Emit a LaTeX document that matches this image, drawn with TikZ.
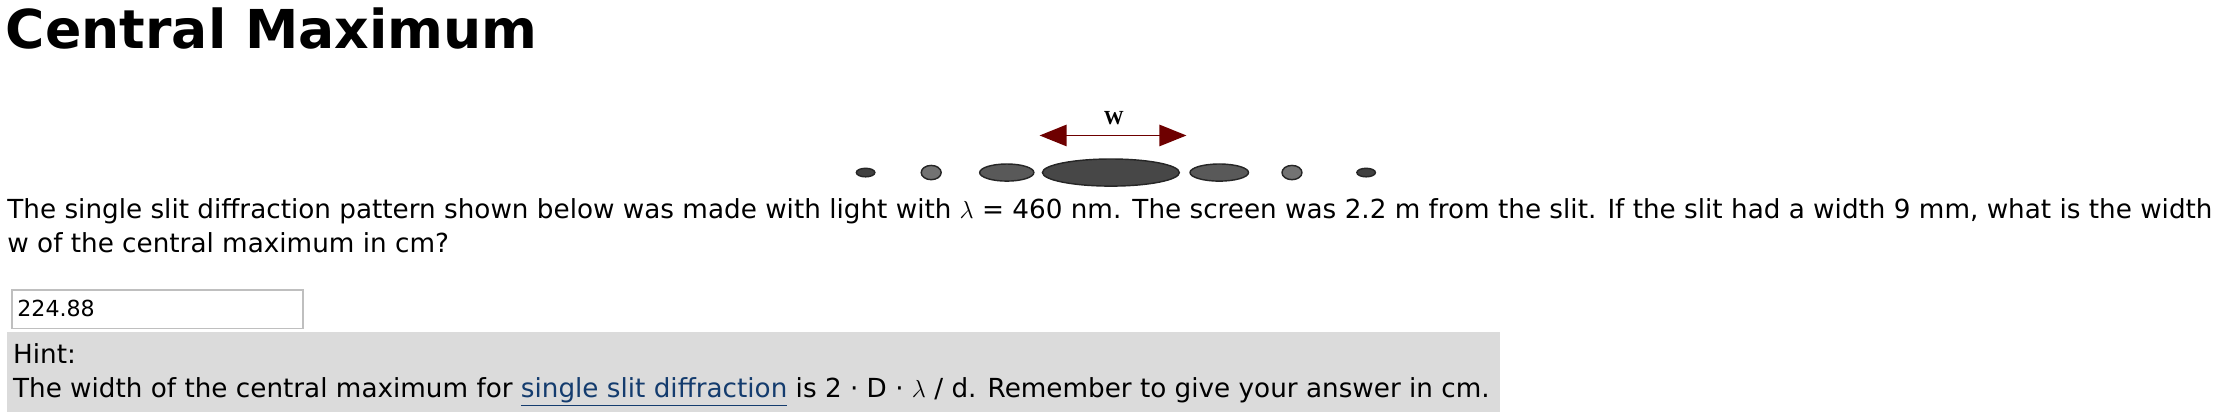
\documentclass[tikz,border=0pt]{standalone}
\usepackage{fontspec}
\setmainfont{DejaVu Sans}
\usetikzlibrary{arrows.meta,shapes.geometric}
\definecolor{dred}{RGB}{110,0,0}
\definecolor{linkb}{RGB}{20,60,110}
\begin{document}
\begin{tikzpicture}[x=1pt,y=-1pt,
  spot/.style={ellipse,draw=black!85,fill=black!70,line width=1pt,inner sep=0pt},
  txt/.style={anchor=base west,inner sep=0pt,font=\fontsize{18.4}{22}\selectfont}]
\useasboundingbox (0,0) rectangle (1568,292);
\node[anchor=base west,inner sep=0pt,font=\fontsize{37.6}{44}\bfseries\selectfont] (title) at (4,34) {Central Maximum};
% pattern
\node[spot,minimum width=96,minimum height=19,fill=black!72] (c) at (779,121) {};
\node[spot,minimum width=38,minimum height=12,fill=black!65] (l1) at (706,121) {};
\node[spot,minimum width=41,minimum height=12,fill=black!65] (r1) at (855,121) {};
\node[spot,minimum width=14,minimum height=10,fill=black!55] (l2) at (653,121) {};
\node[spot,minimum width=14,minimum height=10,fill=black!55] (r2) at (906,121) {};
\node[spot,minimum width=13,minimum height=6,fill=black!75] (l3) at (607,121) {};
\node[spot,minimum width=13,minimum height=6,fill=black!75] (r3) at (958,121) {};
\coordinate (al) at (729,95);
\coordinate (ar) at (832,95);
\draw[dred,line width=1.2pt,{Triangle[length=19,width=15]}-{Triangle[length=19,width=15]}] (al) -- (ar);
\node[font=\fontsize{14}{14}\bfseries\selectfont,inner sep=0pt] (w) at (781,83) {\fontspec{Liberation Serif}W};
% text
\node[txt] (q1) at (5,153) {The single slit diffraction pattern shown below was made with light with $\lambda$ = 460 nm. The screen was 2.2 m from the slit. If the slit had a width 9 mm, what is the width};
\node[txt] (q2) at (5,177) {w of the central maximum in cm?};
\node[draw=black!25,line width=1pt,minimum width=204,minimum height=27,anchor=north west] (box) at (8,203) {};
\node[txt,font=\fontsize{15.5}{18}\selectfont] (ans) at (12,222) {224.88};
\fill[black!14] (5,233) rectangle (1052,289);
\node[txt] (h1) at (9,255) {Hint:};
\node[txt] (h2) at (9,279) {The width of the central maximum for \textcolor{linkb}{\underline{single slit diffraction}} is 2 · D · $\lambda$ / d. Remember to give your answer in cm.};
\end{tikzpicture}
\end{document}
